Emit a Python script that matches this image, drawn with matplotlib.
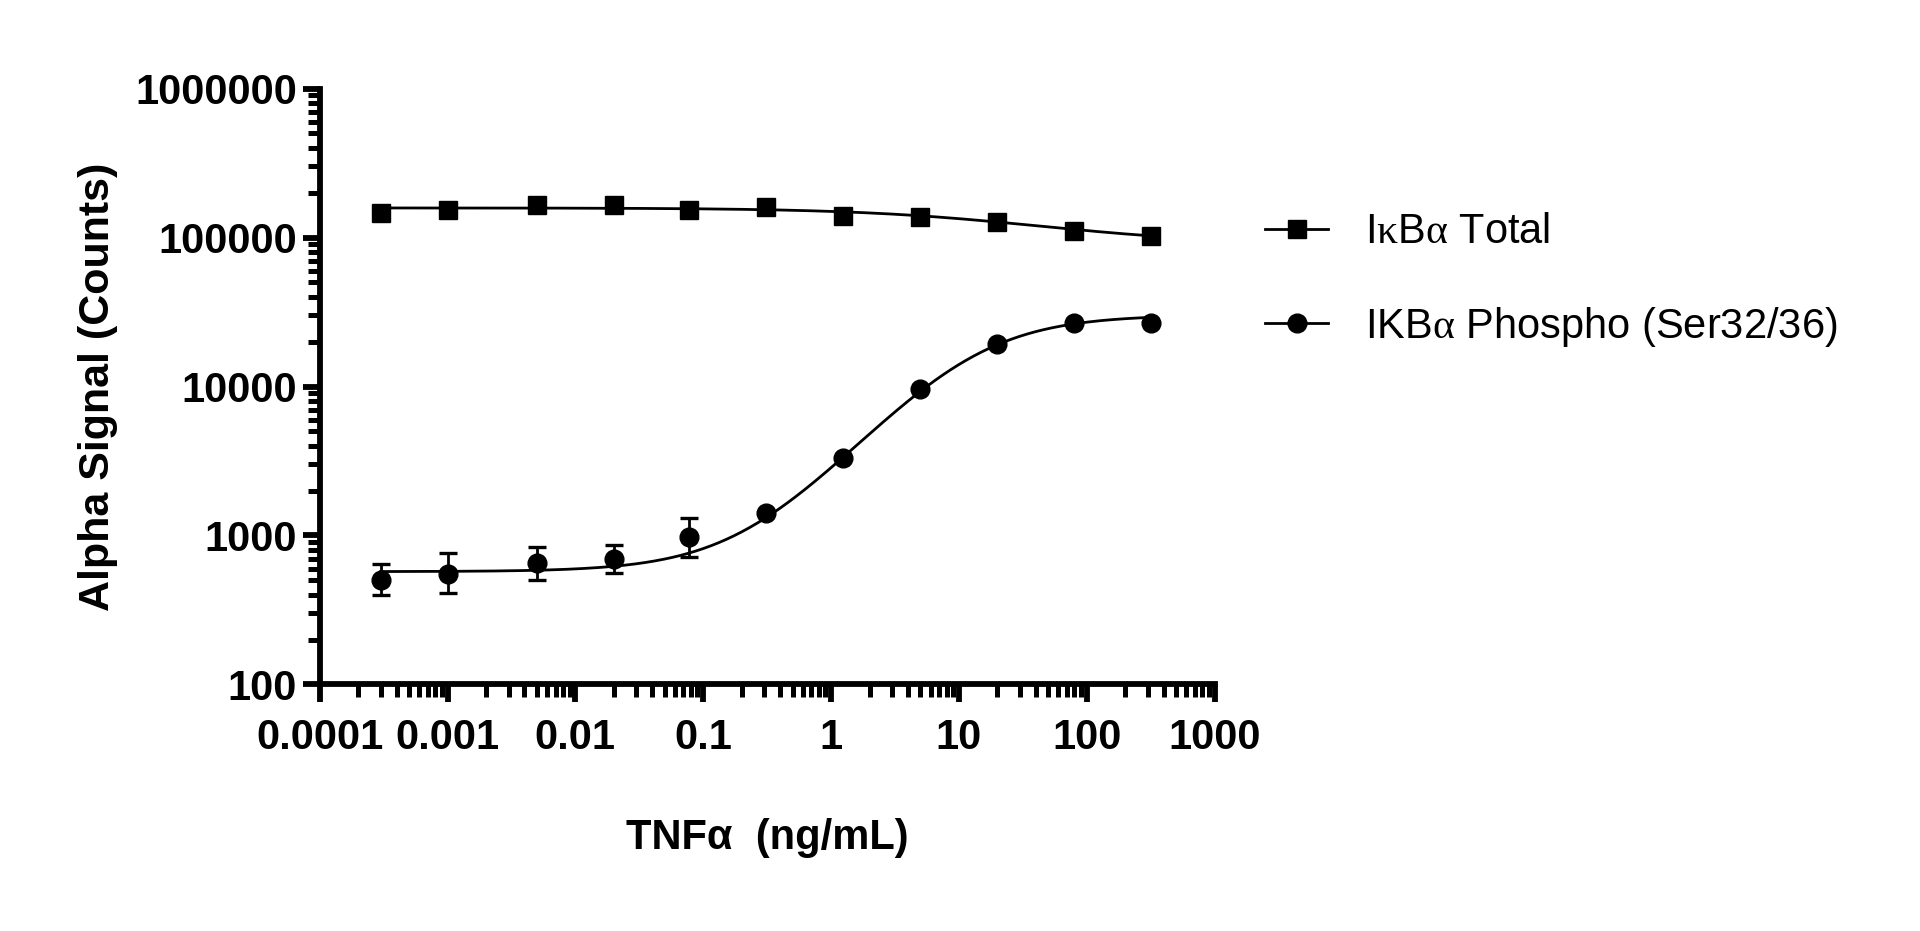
import numpy as np
import matplotlib
matplotlib.use("Agg")
import matplotlib.pyplot as plt
from matplotlib.ticker import FixedLocator, FixedFormatter, LogLocator, NullFormatter
from matplotlib.lines import Line2D

plt.rcParams['font.family'] = ['Liberation Sans', 'DejaVu Sans']
plt.rcParams['mathtext.fontset'] = 'custom'
plt.rcParams['mathtext.rm'] = 'Liberation Serif'

# ---------------- data ----------------
conc = [0.0003, 0.001, 0.005, 0.02, 0.078, 0.3125, 1.25, 5, 20, 80, 320]
total_signal = [145700, 153200, 166300, 166300, 154000, 161200, 139700, 137000, 127400, 110800, 101600]
phospho_signal = [505, 554, 653, 698, 976, 1419, 3297, 9590, 19200, 26800, 26800]
phospho_err_up = [135, 212, 187, 159, 344, 0, 0, 0, 0, 0, 0]
phospho_err_down = [104, 143, 148, 138, 256, 0, 0, 0, 0, 0, 0]

# 4PL fit parameters (bottom, top, EC50, hill) estimated from the drawn curves
total_fit = dict(bottom=90000, top=158000, ec50=27.0, hill=-0.6)
phospho_fit = dict(bottom=572, top=30200, ec50=12.0, hill=1.0)

x_ticks = [0.0001, 0.001, 0.01, 0.1, 1, 10, 100, 1000]
x_tick_labels = ["0.0001", "0.001", "0.01", "0.1", "1", "10", "100", "1000"]
y_ticks = [100, 1000, 10000, 100000, 1000000]
y_tick_labels = ["100", "1000", "10000", "100000", "1000000"]

series_labels = [r"I$\mathrm{\kappa}$B$\mathrm{\alpha}$ Total",
                 r"IKB$\mathrm{\alpha}$ Phospho (Ser32/36)"]
x_label = "TNFα  (ng/mL)"
y_label = "Alpha Signal (Counts)"


def four_pl(x, bottom, top, ec50, hill):
    x = np.asarray(x, dtype=float)
    return bottom + (top - bottom) / (1.0 + (ec50 / x) ** hill)


# ---------------- figure ----------------
fig = plt.figure(figsize=(19.2, 9.31), dpi=100)
ax = fig.add_axes([0.1665, 0.2648, 0.4661, 0.6401])
ax.set_xscale('log')
ax.set_yscale('log')
ax.set_xlim(1e-4, 1e3)
ax.set_ylim(1e2, 1e6)

xc = np.logspace(np.log10(conc[0]), np.log10(conc[-1]), 400)
lw = 2.0
ax.plot(xc, four_pl(xc, **total_fit), color='black', lw=lw, zorder=3)
ax.plot(xc, four_pl(xc, **phospho_fit), color='black', lw=lw, zorder=3)

ax.errorbar(conc, phospho_signal, yerr=[phospho_err_down, phospho_err_up], fmt='none',
            ecolor='black', elinewidth=2.0, capsize=6.5, capthick=2.4, zorder=4)

ms = 13.5
ax.plot(conc, total_signal, linestyle='none', marker='s', ms=ms, color='black', zorder=5,
        clip_on=False)
ax.plot(conc, phospho_signal, linestyle='none', marker='o', ms=ms, color='black', zorder=5,
        clip_on=False)

for s in ['top', 'right']:
    ax.spines[s].set_visible(False)
for s in ['left', 'bottom']:
    ax.spines[s].set_linewidth(4.2)

ax.xaxis.set_major_locator(FixedLocator(x_ticks))
ax.xaxis.set_major_formatter(FixedFormatter(x_tick_labels))
ax.yaxis.set_major_locator(FixedLocator(y_ticks))
ax.yaxis.set_major_formatter(FixedFormatter(y_tick_labels))
ax.xaxis.set_minor_locator(LogLocator(base=10, subs=np.arange(2, 10), numticks=50))
ax.yaxis.set_minor_locator(LogLocator(base=10, subs=np.arange(2, 10), numticks=50))
ax.xaxis.set_minor_formatter(NullFormatter())
ax.yaxis.set_minor_formatter(NullFormatter())

ax.tick_params(axis='x', which='major', direction='out', length=13, width=4.2, pad=11,
               labelsize=30)
ax.tick_params(axis='y', which='major', direction='out', length=12, width=4.2, pad=4.5,
               labelsize=30)
ax.tick_params(axis='both', which='minor', direction='out', length=9, width=3.6)
for lab in ax.get_xticklabels() + ax.get_yticklabels():
    lab.set_fontweight('bold')

ax.set_xlabel(x_label, fontsize=30, fontweight='bold', labelpad=43)
ax.set_ylabel(y_label, fontsize=31, fontweight='bold', labelpad=12)

handles = [Line2D([], [], color='black', lw=lw, marker='s', ms=ms),
           Line2D([], [], color='black', lw=lw, marker='o', ms=ms)]
fig.legend(handles, series_labels, loc='center left', bbox_to_anchor=(0.6589, 0.6987),
           bbox_transform=fig.transFigure, frameon=False, fontsize=30,
           handlelength=1.51, handletextpad=0.88, labelspacing=1.25, borderpad=0,
           borderaxespad=0)

fig.savefig("out.png", dpi=100)
